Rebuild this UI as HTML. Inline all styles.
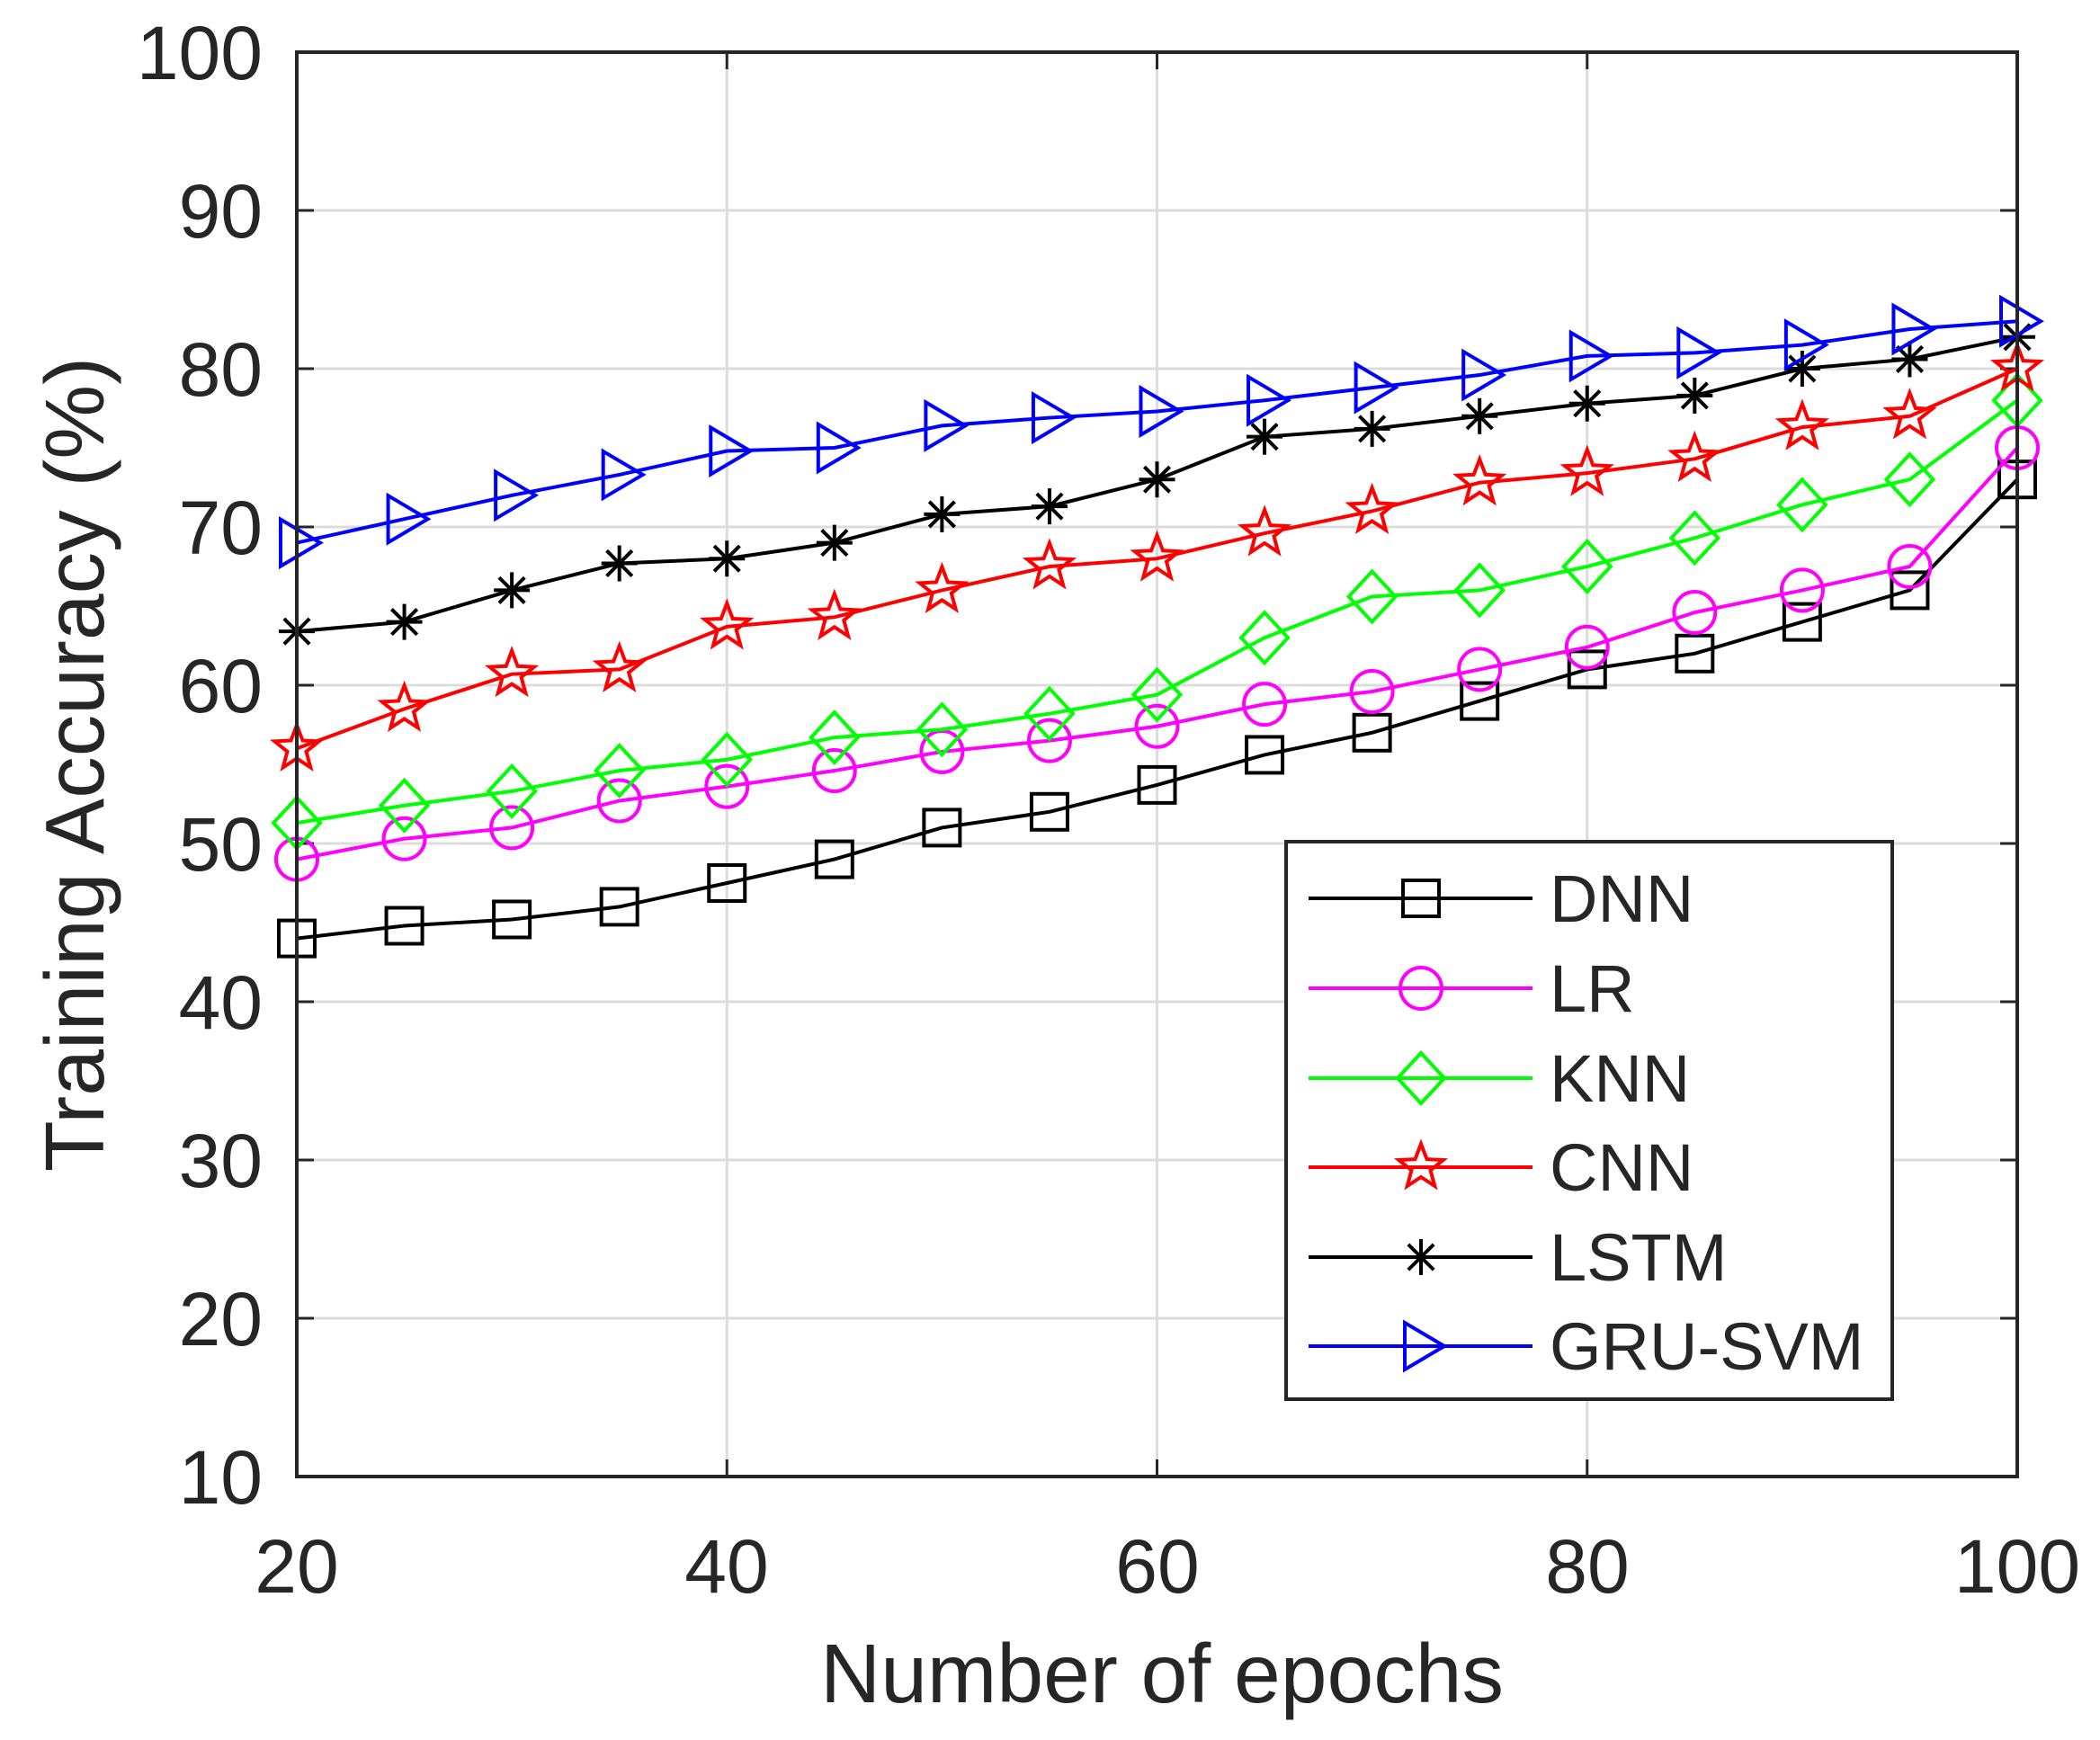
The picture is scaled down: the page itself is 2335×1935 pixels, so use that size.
<!DOCTYPE html>
<html><head><meta charset="utf-8"><style>
html,body{margin:0;padding:0;background:#fff;}
svg{display:block;}
text{font-family:"Liberation Sans",sans-serif;fill:#262626;}
</style></head><body>
<svg id="s" width="2335" height="1935" viewBox="0 0 2335 1935" xmlns="http://www.w3.org/2000/svg">
<rect width="2335" height="1935" fill="#fff"/>
<g id="grid" stroke="#dcdcdc" stroke-width="3"></g>
<g id="ticks" stroke="#262626" stroke-width="3"></g>
<g font-size="84" text-anchor="end">
<text x="292" y="88">100</text><text x="292" y="264">90</text><text x="292" y="440">80</text>
<text x="292" y="616">70</text><text x="292" y="792">60</text><text x="292" y="968">50</text>
<text x="292" y="1144">40</text><text x="292" y="1320">30</text><text x="292" y="1496">20</text>
<text x="292" y="1672">10</text>
</g>
<g font-size="84" text-anchor="middle">
<text x="330" y="1771">20</text><text x="808" y="1771">40</text><text x="1287" y="1771">60</text>
<text x="1765" y="1771">80</text><text x="2243" y="1771">100</text>
</g>
<text x="1292" y="1893" font-size="93" text-anchor="middle">Number of epochs</text>
<text transform="translate(115,850) rotate(-90)" font-size="93" text-anchor="middle">Training Accuracy (%)</text>
<g id="series"></g>
<rect x="330" y="58" width="1913" height="1584" fill="none" stroke="#262626" stroke-width="4"/>
<rect x="1437" y="941" width="674" height="620" fill="#fff" stroke="#262626" stroke-width="4" transform="translate(-7,-5)"/>
<g id="leg"></g>
<g font-size="74">
<text x="1723" y="1025">DNN</text><text x="1723" y="1125">LR</text><text x="1723" y="1225">KNN</text>
<text x="1723" y="1324">CNN</text><text x="1723" y="1424">LSTM</text><text x="1723" y="1523">GRU-SVM</text>
</g>
</svg>
<script>
const L=330,R=2243,T=58,B=1642;
const X=e=>L+(e-20)*(R-L)/80, Y=v=>B-(v-10)*(B-T)/90;
const NS="http://www.w3.org/2000/svg";
function el(p,t,a){const e=document.createElementNS(NS,t);for(const k in a)e.setAttribute(k,a[k]);p.appendChild(e);return e;}
const g=document.getElementById('grid'),tk=document.getElementById('ticks');
for(let v=20;v<100;v+=10){el(g,'line',{x1:L,x2:R,y1:Y(v),y2:Y(v)});}
for(let e=40;e<100;e+=20){el(g,'line',{x1:X(e),x2:X(e),y1:T,y2:B});}
for(let v=10;v<=100;v+=10){el(tk,'line',{x1:L,x2:L+19,y1:Y(v),y2:Y(v)});el(tk,'line',{x1:R-19,x2:R,y1:Y(v),y2:Y(v)});}
for(let e=20;e<=100;e+=20){el(tk,'line',{x1:X(e),x2:X(e),y1:B,y2:B-19});el(tk,'line',{x1:X(e),x2:X(e),y1:T,y2:T+19});}
const S=[
['#000','sq',[44,44.8,45.2,46,47.5,49,51,52,53.7,55.6,57,59,61,62,64,66,73]],
['#ff00ff','ci',[49,50.3,51,52.7,53.6,54.6,55.8,56.5,57.4,58.8,59.6,61,62.4,64.6,66,67.5,75]],
['#00ff00','di',[51.3,52.4,53.3,54.6,55.3,56.7,57.2,58.2,59.4,63,65.6,66,67.5,69.3,71.4,73,78]],
['#ff0000','st',[56,58.5,60.7,61,63.7,64.3,66,67.5,68,69.6,71,72.8,73.4,74.3,76.3,77,80]],
['#000','as',[63.4,64,66,67.7,68,69,70.8,71.3,73,75.7,76.2,77,77.8,78.3,80,80.6,82]],
['#0000ff','tr',[69,70.5,72,73.3,74.8,75,76.4,76.9,77.3,78,78.8,79.6,80.8,81,81.5,82.5,83]]];
function marker(p,t,x,y,c){
 const a={fill:'none',stroke:c,'stroke-width':4};
 if(t=='sq')el(p,'rect',Object.assign({x:x-20,y:y-20,width:40,height:40},a));
 else if(t=='ci')el(p,'circle',Object.assign({cx:x,cy:y,r:23},a));
 else if(t=='di')el(p,'polygon',Object.assign({points:`${x},${y-28} ${x+26},${y} ${x},${y+28} ${x-26},${y}`},a));
 else if(t=='st'){let pts=[];for(let i=0;i<10;i++){const r=i%2?11:26,an=-Math.PI/2+i*Math.PI/5;pts.push((x+r*Math.cos(an)).toFixed(1)+','+(y+r*Math.sin(an)).toFixed(1));}el(p,'polygon',Object.assign({points:pts.join(' ')},a));}
 else if(t=='as'){for(let k=0;k<4;k++){const an=k*Math.PI/4,dx=20*Math.cos(an),dy=20*Math.sin(an);el(p,'line',Object.assign({x1:x-dx,y1:y-dy,x2:x+dx,y2:y+dy},a));}}
 else if(t=='tr')el(p,'polygon',Object.assign({points:`${x-18},${y-26} ${x+26},${y} ${x-18},${y+26}`},a));
}
const sg=document.getElementById('series'),lg=document.getElementById('leg');
S.forEach(([c,t,d],i)=>{
 el(sg,'polyline',{points:d.map((v,j)=>X(20+5*j)+','+Y(v)).join(' '),fill:'none',stroke:c,'stroke-width':4});
 d.forEach((v,j)=>marker(sg,t,X(20+5*j),Y(v),c));
 const ly=[1006,1106,1206,1305,1405,1504][i]-7;
 el(lg,'line',{x1:1455,x2:1704,y1:ly,y2:ly,stroke:c,'stroke-width':4});
 marker(lg,t,1580,ly,c);
});
</script>
</body></html>
